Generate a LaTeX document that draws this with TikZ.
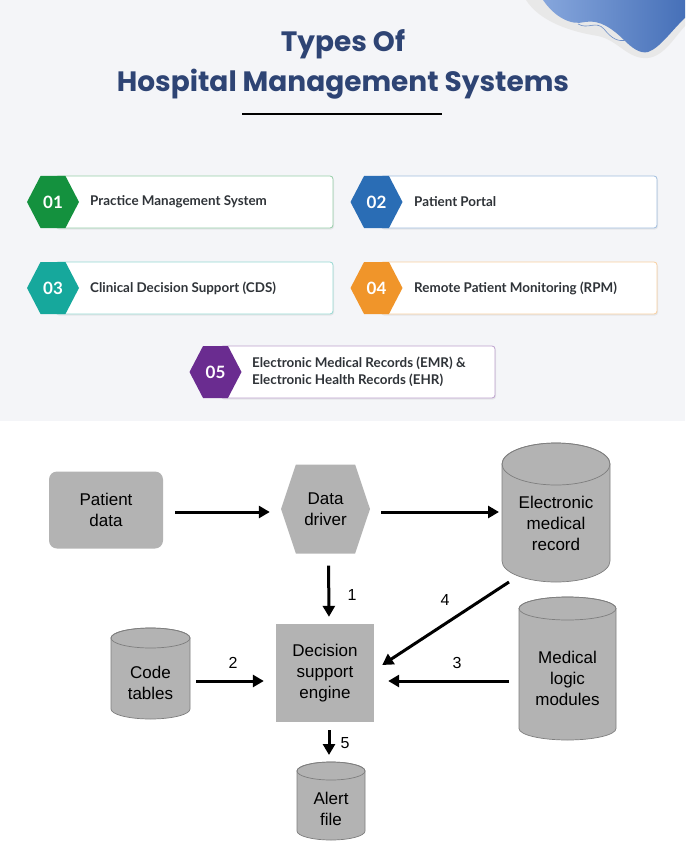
\documentclass[tikz,border=0pt]{standalone}
\usepackage{fontspec}
\setmainfont{Liberation Sans}
\newfontfamily\titlefont{Poppins}
\newfontfamily\cardfont{Lato}
\usetikzlibrary{arrows.meta,shapes.symbols,shadows,calc}
\definecolor{pagebg}{HTML}{F4F5F8}
\definecolor{titleink}{HTML}{2E4474}
\definecolor{cardink}{HTML}{2F3338}
\definecolor{boxgray}{HTML}{B3B3B3}
\definecolor{edgegray}{HTML}{7E7E7E}
\definecolor{cardone}{HTML}{14913E}
\definecolor{cardtwo}{HTML}{2A6DB5}
\definecolor{cardthree}{HTML}{16A89C}
\definecolor{cardfour}{HTML}{F0952A}
\definecolor{cardfive}{HTML}{6A2C90}
\definecolor{blobleft}{HTML}{86A6DC}
\definecolor{blobright}{HTML}{4670B8}

% drum outline round a named box: node, x radius, y radius
\newcommand{\drum}[3]{%
    \filldraw[fill=boxgray, draw=edgegray, line width=0.7pt]
        ([yshift=-#3]#1.north west) -- ([yshift=#3]#1.south west)
        arc[start angle=180, end angle=360, x radius=#2, y radius=#3]
        -- ([yshift=-#3]#1.north east)
        arc[start angle=0, end angle=180, x radius=#2, y radius=#3] -- cycle;
    \draw[edgegray, line width=0.7pt] ([yshift=-#3]#1.north) ellipse[x radius=#2, y radius=#3];
}

\begin{document}
\begin{tikzpicture}[
        x=1pt,
        y=-1pt,
        flowarrow/.style={-{Triangle[length=11pt, width=12pt]}, line width=3pt},
        graybox/.style={fill=boxgray, align=center, inner sep=0pt, font=\fontsize{17}{21}\selectfont},
        drumbox/.style={inner sep=0pt, outer sep=0pt},
        storetext/.style={align=center, inner sep=0pt, font=\fontsize{17}{21}\selectfont},
        numlabel/.style={inner sep=1pt, font=\fontsize{16}{16}\selectfont},
        badge/.style={signal, signal to=west and east, signal pointer angle=125,
            minimum width=52pt, minimum height=52pt, inner sep=0pt, fill=#1, text=white,
            font=\cardfont\bfseries\fontsize{17}{17}\selectfont},
        card/.style={rounded corners=3pt, draw=#1!45!white, fill=white, line width=0.8pt,
            minimum height=52pt, drop shadow={opacity=0.12, shadow xshift=1pt, shadow yshift=-1.5pt}},
        cardtext/.style={anchor=west, align=left, text=cardink, inner sep=0pt,
            font=\cardfont\bfseries\fontsize{13.4}{17}\selectfont}
    ]
        \useasboundingbox (0,0) rectangle (685,842);
        \fill[pagebg] (0,0) rectangle (685,421);

        % corner blob
        \fill[black!9] (526,0) .. controls (540,22) and (572,32) .. (598,36)
            .. controls (618,40) and (628,60) .. (648,58)
            .. controls (664,56) and (674,38) .. (685,26) -- (685,0) -- cycle;
        \shade[left color=blobleft, right color=blobright] (543,0) .. controls (554,16) and (570,26) .. (585,22)
            .. controls (600,19) and (614,30) .. (624,40)
            .. controls (632,48) and (640,54) .. (648,52)
            .. controls (660,48) and (672,30) .. (685,18) -- (685,0) -- cycle;
        \draw[blobright!80, line width=0.6pt] (578,24) .. controls (588,30) and (596,20) .. (604,29)
            .. controls (612,39) and (618,42) .. (627,40);

        % title
        \node[anchor=base, text=titleink, font=\titlefont\bfseries\fontsize{28}{34}\selectfont] (titletop) at (343,52) {Types Of};
        \node[anchor=base, text=titleink, font=\titlefont\bfseries\fontsize{28}{34}\selectfont] (titlemain) at (343,92) {Hospital Management Systems};
        \draw[line width=1.6pt] (242,114) -- (442,114);

        % system cards
        \node[card=cardone, minimum width=278pt] (cardone) at (194,202) {};
        \node[badge=cardone] (badgeone) at (53,202) {01};
        \node[cardtext] (textone) at (90,202) {Practice Management System};

        \node[card=cardtwo, minimum width=277pt] (cardtwo) at (518.5,202) {};
        \node[badge=cardtwo] (badgetwo) at (376.5,202) {02};
        \node[cardtext] (texttwo) at (414,202) {Patient Portal};

        \node[card=cardthree, minimum width=278pt] (cardthree) at (194,288) {};
        \node[badge=cardthree] (badgethree) at (53,288) {03};
        \node[cardtext] (textthree) at (90,288) {Clinical Decision Support (CDS)};

        \node[card=cardfour, minimum width=277pt] (cardfour) at (518.5,288) {};
        \node[badge=cardfour] (badgefour) at (376.5,288) {04};
        \node[cardtext] (textfour) at (414,288) {Remote Patient Monitoring (RPM)};

        \node[card=cardfive, minimum width=275pt] (cardfive) at (357.5,372) {};
        \node[badge=cardfive] (badgefive) at (215.5,372) {05};
        \node[cardtext] (textfive) at (252,372) {Electronic Medical Records (EMR) \&\\Electronic Health Records (EHR)};

        % decision support flow
        \node[graybox, rounded corners=8pt, minimum width=114pt, minimum height=77pt] (patient) at (106,510) {Patient\\data};
        \node[graybox, signal, signal to=west and east, signal pointer angle=143,
            minimum width=89pt, minimum height=89pt] (driver) at (325.5,509) {Data\\driver};
        \node[graybox, minimum width=98pt, minimum height=98pt] (engine) at (325,673) {Decision\\support\\engine};

        \node[drumbox, minimum width=108pt, minimum height=139pt] (emr) at (556,512.5) {};
        \drum{emr}{54pt}{21pt}
        \node[storetext] (emrtext) at (556,523) {Electronic\\medical\\record};
        \node[drumbox, minimum width=79pt, minimum height=91pt] (code) at (150.5,673.5) {};
        \drum{code}{39.5pt}{10pt}
        \node[storetext] (codetext) at (150.5,682.5) {Code\\tables};
        \node[drumbox, minimum width=97pt, minimum height=143pt] (modules) at (567.5,668.5) {};
        \drum{modules}{48.5pt}{11.5pt}
        \node[storetext] (modulestext) at (567.5,678) {Medical\\logic\\modules};
        \node[drumbox, minimum width=68pt, minimum height=78pt] (alert) at (331,801) {};
        \drum{alert}{34pt}{9pt}
        \node[storetext] (alerttext) at (331,808.5) {Alert\\file};

        \coordinate (arrowrow) at (0,681);

        \draw[flowarrow, shorten <=12pt, shorten >=11pt] (patient.east |- 0,512) -- (driver.west |- 0,512);
        \draw[flowarrow, shorten <=11pt, shorten >=3pt] (driver.east |- 0,512) -- (emr.west |- 0,512);
        \draw[flowarrow, shorten <=12pt, shorten >=7pt] ([xshift=3pt]driver.south) -- ([xshift=4pt]engine.north);
        \draw[flowarrow, shorten <=6pt, shorten >=12pt] (code.east |- arrowrow) -- (engine.west |- arrowrow);
        \draw[flowarrow, shorten <=10pt, shorten >=14pt] (modules.west |- arrowrow) -- (engine.east |- arrowrow);
        \draw[flowarrow] ($(emr.south)+(-47,0)$) -- ($(engine.east)+(8,-8)$);
        \draw[flowarrow, shorten <=8pt, shorten >=7pt] ([xshift=4pt]engine.south) -- ([xshift=4pt]engine.south |- alert.north);

        \node[numlabel] (lblone) at (352,595) {1};
        \node[numlabel] (lbltwo) at (233,663) {2};
        \node[numlabel] (lblthree) at (457,663) {3};
        \node[numlabel] (lblfour) at (445,600) {4};
        \node[numlabel] (lblfive) at (345,743) {5};
    \end{tikzpicture}
\end{document}
